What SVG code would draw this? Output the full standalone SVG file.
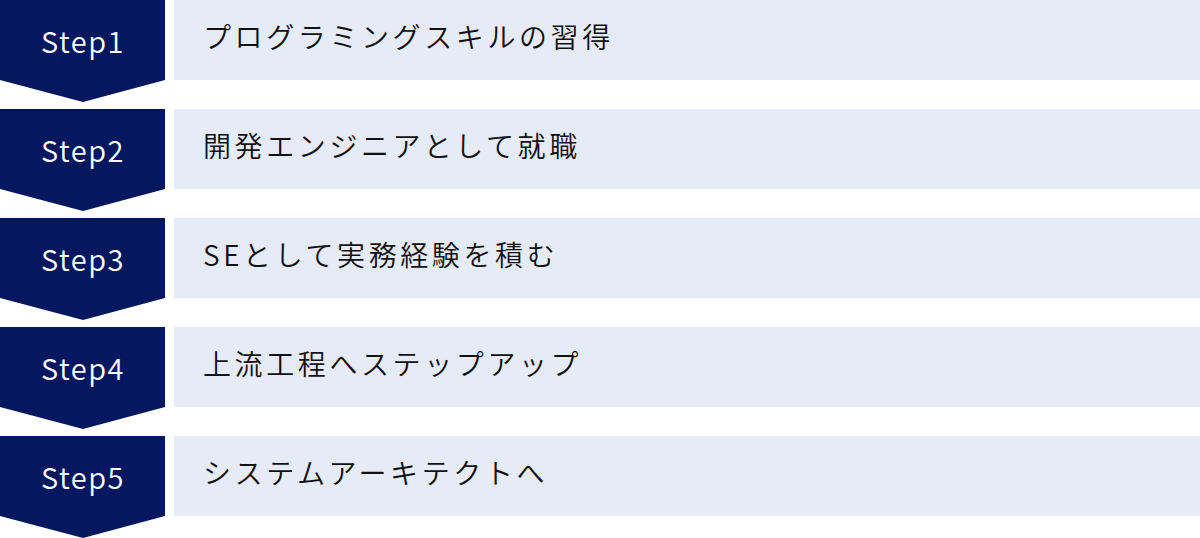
<svg xmlns="http://www.w3.org/2000/svg" width="1200" height="538" viewBox="0 0 1200 538">
<style>
.arrow{fill:#04175f}
.box{fill:#e6ebf8}
.step{font-family:"Noto Sans CJK JP","Noto Sans",sans-serif;font-size:29px;font-weight:350;fill:#ffffff;text-anchor:middle;letter-spacing:1.5px}
.label{font-family:"Noto Sans CJK JP",sans-serif;font-size:28px;font-weight:350;fill:#111111;letter-spacing:3.6px}
</style>
<g id="step1">
<path class="arrow" d="M0,0H165V80L83,102L0,80Z"/>
<rect class="box" x="174" y="0" width="1026" height="80"/>
<text class="step" x="83" y="53">Step1</text>
<text class="label" x="203" y="48">プログラミングスキルの習得</text>
</g>
<g id="step2">
<path class="arrow" d="M0,109H165V189L83,211L0,189Z"/>
<rect class="box" x="174" y="109" width="1026" height="80"/>
<text class="step" x="83" y="162">Step2</text>
<text class="label" x="203" y="157">開発エンジニアとして就職</text>
</g>
<g id="step3">
<path class="arrow" d="M0,218H165V298L83,320L0,298Z"/>
<rect class="box" x="174" y="218" width="1026" height="80"/>
<text class="step" x="83" y="271">Step3</text>
<text class="label" x="203" y="266">SEとして実務経験を積む</text>
</g>
<g id="step4">
<path class="arrow" d="M0,327H165V407L83,429L0,407Z"/>
<rect class="box" x="174" y="327" width="1026" height="80"/>
<text class="step" x="83" y="380">Step4</text>
<text class="label" x="203" y="375">上流工程へステップアップ</text>
</g>
<g id="step5">
<path class="arrow" d="M0,436H165V516L83,538L0,516Z"/>
<rect class="box" x="174" y="436" width="1026" height="80"/>
<text class="step" x="83" y="489">Step5</text>
<text class="label" x="203" y="484">システムアーキテクトへ</text>
</g>
<g id="connectors"/>
</svg>
